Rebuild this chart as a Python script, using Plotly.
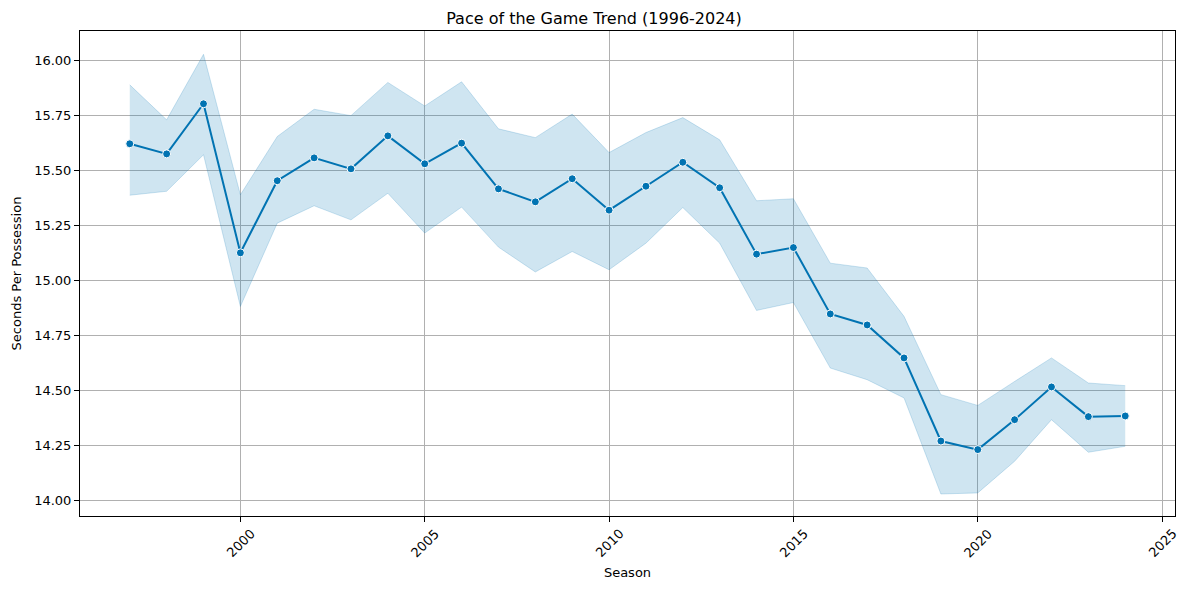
import plotly.graph_objects as go

seasons = list(range(1997, 2025))
mean_spp = [15.623, 15.577, 15.805, 15.127, 15.455, 15.559, 15.509, 15.659, 15.532, 15.626,
            15.418, 15.359, 15.464, 15.321, 15.430, 15.539, 15.423, 15.121, 15.151, 14.849,
            14.799, 14.649, 14.271, 14.232, 14.368, 14.517, 14.382, 14.385]
upper_ci = [15.891, 15.732, 16.030, 15.391, 15.656, 15.780, 15.751, 15.902, 15.795, 15.905,
            15.691, 15.651, 15.758, 15.583, 15.674, 15.742, 15.641, 15.364, 15.373, 15.080,
            15.058, 14.838, 14.482, 14.433, 14.542, 14.649, 14.535, 14.523]
lower_ci = [15.389, 15.407, 15.573, 14.883, 15.262, 15.341, 15.277, 15.398, 15.217, 15.335,
            15.153, 15.040, 15.133, 15.050, 15.171, 15.333, 15.171, 14.865, 14.901, 14.603,
            14.550, 14.467, 14.030, 14.035, 14.179, 14.368, 14.220, 14.247]
x_ticks = [2000, 2005, 2010, 2015, 2020, 2025]
y_ticks = [14.00, 14.25, 14.50, 14.75, 15.00, 15.25, 15.50, 15.75, 16.00]

blue = "#0173b2"
band = "rgba(1,115,178,0.19)"

fig = go.Figure()
fig.add_trace(go.Scatter(x=seasons, y=upper_ci, mode="lines",
                         line=dict(color=band, width=1), hoverinfo="skip", showlegend=False))
fig.add_trace(go.Scatter(x=seasons, y=lower_ci, mode="lines", fill="tonexty", fillcolor=band,
                         line=dict(color=band, width=1), hoverinfo="skip", showlegend=False))
fig.add_trace(go.Scatter(x=seasons, y=mean_spp, mode="lines+markers",
                         line=dict(color=blue, width=2),
                         marker=dict(color=blue, size=8, line=dict(color="white", width=1)),
                         showlegend=False))

axis_common = dict(showline=True, linecolor="black", linewidth=1, mirror=True,
                   showgrid=True, gridcolor="#b0b0b0", gridwidth=1,
                   ticks="outside", ticklen=5, tickcolor="black", zeroline=False,
                   tickfont=dict(size=13, color="black"))

# rotated tick labels centred on their ticks (as real text)
tick_annotations = [
    dict(x=t, y=0, xref="x", yref="paper", text=str(t), showarrow=False,
         textangle=-45, xanchor="center", yanchor="middle", yshift=-27,
         font=dict(size=13, color="black", family="DejaVu Sans"))
    for t in x_ticks
]

fig.update_layout(
    width=1188, height=590,
    paper_bgcolor="white", plot_bgcolor="white",
    font=dict(family="DejaVu Sans", color="black"),
    margin=dict(l=80, r=13, t=31, b=74),
    title=dict(text="Pace of the Game Trend (1996-2024)", x=0.5, xanchor="center",
               y=1 - 18 / 590, yanchor="middle", font=dict(size=16, color="black")),
    xaxis=dict(range=[1995.65, 2025.35], tickvals=x_ticks, showticklabels=False,
               title=dict(text="Season", font=dict(size=13), standoff=46), **axis_common),
    yaxis=dict(range=[13.93, 16.136], tickvals=y_ticks, tickformat=".2f",
               title=dict(text="Seconds Per Possession", font=dict(size=13), standoff=9), **axis_common),
    annotations=tick_annotations,
)

fig.write_html("out.html")
